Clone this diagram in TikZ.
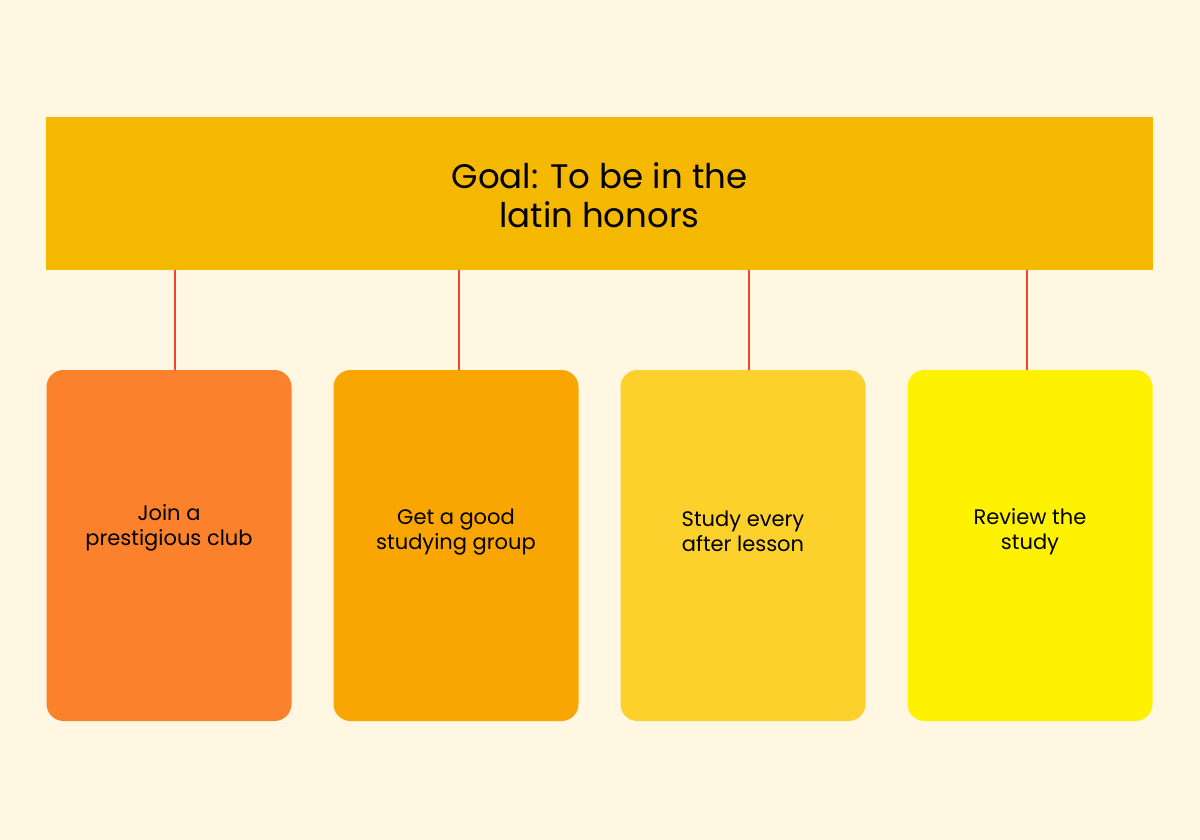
\documentclass[tikz,border=0pt]{standalone}
\usepackage{fontspec}
\setmainfont{Poppins}
\usetikzlibrary{positioning}
\definecolor{cream}{HTML}{FFF7E1}
\definecolor{goalbar}{HTML}{F4B800}
\definecolor{stepA}{HTML}{FB812D}
\definecolor{stepB}{HTML}{F9A602}
\definecolor{stepC}{HTML}{FDD12B}
\definecolor{stepD}{HTML}{FFF200}
\definecolor{stemred}{HTML}{F0452A}

\begin{document}
\begin{tikzpicture}[x=0.5pt,y=-0.5pt]
\tikzstyle{goalbox} = [fill=goalbar,minimum width=553.5pt,minimum height=76.5pt,inner sep=0pt]
\tikzstyle{goaltext} = [align=center,font=\fontsize{17}{19.5}\selectfont]
\tikzstyle{stepbox} = [rounded corners=8.5pt,minimum width=122.5pt,minimum height=175.5pt,inner sep=0pt,node distance=143.5pt]
\tikzstyle{steptext} = [align=center,font=\fontsize{10.5}{12.5}\selectfont]
\tikzstyle{stem} = [draw=stemred,line width=1pt]

\fill[cream] (0,0) rectangle (1200,840);
\useasboundingbox (0,0) rectangle (1200,840);

\node[goalbox,label={[goaltext,yshift=-1pt]center:Goal: To be in the\\latin honors}] (goal) at (599.5,193.5) {};

\node[stepbox,fill=stepA,label={[steptext,yshift=9pt]center:Join a\\prestigious club}] (s1) at (169,545.5) {};
\node[stepbox,fill=stepB,right of=s1,label={[steptext,yshift=6.5pt]center:Get a good\\studying group}] (s2) {};
\node[stepbox,fill=stepC,right of=s2,label={[steptext,yshift=7pt]center:Study every\\after lesson}] (s3) {};
\node[stepbox,fill=stepD,right of=s3,label={[steptext,yshift=7pt]center:Review the\\study}] (s4) {};

\draw[stem] ([xshift=3pt]s1.north |- goal.south) -- ([xshift=3pt]s1.north);
\draw[stem] ([xshift=1.5pt]s2.north |- goal.south) -- ([xshift=1.5pt]s2.north);
\draw[stem] ([xshift=3pt]s3.north |- goal.south) -- ([xshift=3pt]s3.north);
\draw[stem] ([xshift=-1.5pt]s4.north |- goal.south) -- ([xshift=-1.5pt]s4.north);

\end{tikzpicture}
\end{document}
